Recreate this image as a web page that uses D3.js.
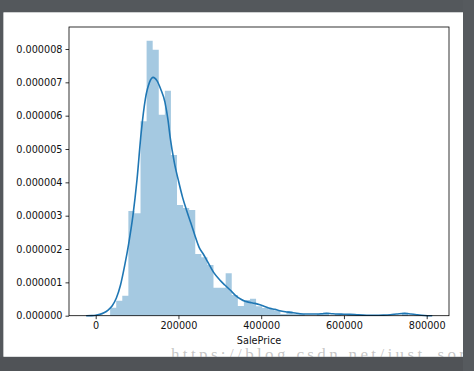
<!DOCTYPE html>
<html>
<head>
<meta charset="utf-8">
<script src="https://cdn.jsdelivr.net/npm/d3@7"></script>
<style>
  html, body { margin: 0; padding: 0; background: #54585c; }
  svg { display: block; }
</style>
</head>
<body>
<svg id="chart" width="474" height="371"></svg>
<script>
// ---------------- data ----------------
const histMin = 34900;
const histMax = 755000;
// density of each of the 49 histogram bins
const histDensity = [
  2.4e-7, 4.5e-7, 6.0e-7, 3.14e-6, 3.07e-6, 5.83e-6, 8.25e-6, 7.98e-6, 6.03e-6, 6.75e-6,
  4.82e-6, 3.32e-6, 3.23e-6, 3.17e-6, 1.85e-6, 1.75e-6, 1.52e-6, 8.4e-7, 8.4e-7, 1.27e-6,
  6.2e-7, 2.9e-7, 4.7e-7, 5.1e-7, 2.8e-7, 2.3e-7, 1.9e-7, 1.4e-7, 5e-8, 1.4e-7,
  5e-8, 5e-8, 0, 0, 5e-8, 9e-8, 0, 5e-8, 0, 5e-8,
  5e-8, 0, 0, 0, 0, 0, 0, 0, 9e-8
];
// KDE curve
const kdeX = [-21700, -10000, 0, 10000, 20000, 30000, 40000, 50000, 60000, 70000,
  80000, 90000, 100000, 110000, 120000, 130000, 139000, 148000, 157000, 167500,
  175000, 180000, 190000, 200000, 210000, 220000, 230000, 240000, 250000, 260000,
  270000, 285000, 300000, 312000, 325000, 337000, 350000, 361000, 373000, 385000,
  397000, 410000, 421000, 433000, 445000, 458000, 470000, 482000, 494000, 510000,
  534000, 548000, 558000, 570000, 583000, 600000, 615000, 635000, 655000, 675000,
  695000, 712000, 728000, 747000, 762000, 776000, 795000, 812000];
const kdeY = [0, 3e-9, 1.2e-8, 4e-8, 9e-8, 1.7e-7, 3.0e-7, 5.3e-7, 9.2e-7, 1.5e-6,
  2.18e-6, 3.0e-6, 4.1e-6, 5.5e-6, 6.5e-6, 7.0e-6, 7.15e-6, 7.05e-6, 6.8e-6, 6.4e-6,
  5.85e-6, 5.35e-6, 4.6e-6, 4.05e-6, 3.55e-6, 3.15e-6, 2.78e-6, 2.4e-6, 2.05e-6, 1.85e-6,
  1.63e-6, 1.3e-6, 1.07e-6, 9.2e-7, 7.7e-7, 6.2e-7, 5.0e-7, 4.3e-7, 4.0e-7, 3.7e-7,
  3.3e-7, 2.7e-7, 2.2e-7, 1.9e-7, 1.5e-7, 1.2e-7, 1.0e-7, 8e-8, 6e-8, 5e-8,
  5e-8, 6e-8, 7e-8, 6e-8, 5e-8, 4.5e-8, 4e-8, 2.5e-8, 1.5e-8, 1.2e-8,
  1.8e-8, 3e-8, 5e-8, 7e-8, 5e-8, 3e-8, 8e-9, 0];
const xTicks = [0, 200000, 400000, 600000, 800000];
const yTicks = [0, 1e-6, 2e-6, 3e-6, 4e-6, 5e-6, 6e-6, 7e-6, 8e-6];
const xLabel = "SalePrice";
const watermark = "https://blog.csdn.net/just_sort";

// ---------------- layout ----------------
const svg = d3.select("#chart");
const W = 474, H = 371;
const plot = { left: 69, right: 449, top: 27, bottom: 315.7 };
const blue = "#1f77b4";
const font = "DejaVu Sans, sans-serif";

// window frame
svg.append("rect").attr("x", 0).attr("y", 0).attr("width", W).attr("height", H).attr("fill", "#54585c");
svg.append("rect").attr("x", 3.5).attr("y", 12).attr("width", 460).attr("height", 345).attr("fill", "#b9bcbe");
svg.append("rect").attr("x", 3.5).attr("y", 12.7).attr("width", 459.5).attr("height", 343.8).attr("fill", "#ffffff");

const x = d3.scaleLinear().domain([-64500, 853900]).range([plot.left, plot.right]);
const y = d3.scaleLinear().domain([0, 8.66e-6]).range([plot.bottom, plot.top]);

// histogram: one stepped area through the bin edges (no seams between bars)
const nb = histDensity.length;
const bw = (histMax - histMin) / nb;
const steps = histDensity.map((d, i) => [histMin + i * bw, d]);
steps.push([histMax, histDensity[nb - 1]]);
svg.append("path").datum(steps)
  .attr("fill", blue).attr("fill-opacity", 0.4)
  .attr("d", d3.area().x(d => x(d[0])).y0(y(0)).y1(d => y(d[1])).curve(d3.curveStepAfter));

// KDE line
const kde = kdeX.map((v, i) => [v, kdeY[i]]);
svg.append("path").datum(kde)
  .attr("fill", "none").attr("stroke", blue).attr("stroke-width", 1.6)
  .attr("stroke-linejoin", "round").attr("stroke-linecap", "round")
  .attr("d", d3.line().x(d => x(d[0])).y(d => y(d[1])).curve(d3.curveMonotoneX));

// axes
const xAxis = svg.append("g").attr("transform", `translate(0,${plot.bottom})`)
  .call(d3.axisBottom(x).tickValues(xTicks).tickFormat(d => String(d)).tickSize(3.5).tickPadding(3));
const yAxis = svg.append("g").attr("transform", `translate(${plot.left},0)`)
  .call(d3.axisLeft(y).tickValues(yTicks).tickFormat(d3.format(".6f")).tickSize(3.5).tickPadding(3));
[xAxis, yAxis].forEach(g => {
  g.select(".domain").remove();
  g.selectAll(".tick line").attr("stroke", "#000").attr("stroke-width", 0.8);
  g.selectAll(".tick text").attr("fill", "#111").style("font-family", font).style("font-size", "9.7px");
});

// frame
svg.append("rect").attr("x", plot.left).attr("y", plot.top)
  .attr("width", plot.right - plot.left).attr("height", plot.bottom - plot.top)
  .attr("fill", "none").attr("stroke", "#000").attr("stroke-width", 0.8);

// x label
svg.append("text").attr("x", (plot.left + plot.right) / 2).attr("y", 343.5)
  .attr("text-anchor", "middle").attr("fill", "#111")
  .style("font-family", font).style("font-size", "9.7px").text(xLabel);

// watermark
svg.append("text").attr("x", 171).attr("y", 359.5)
  .attr("fill", "#a0a0a0").attr("fill-opacity", 0.6)
  .attr("textLength", 302).attr("lengthAdjust", "spacing")
  .style("font-family", "Liberation Serif, serif").style("font-size", "17px").text(watermark);

// bottom and right window chrome over the watermark
svg.append("rect").attr("x", 0).attr("y", 357).attr("width", W).attr("height", H - 357).attr("fill", "#505357");
svg.append("rect").attr("x", 463).attr("y", 0).attr("width", W - 463).attr("height", H).attr("fill", "#565a5e");
</script>
</body>
</html>
